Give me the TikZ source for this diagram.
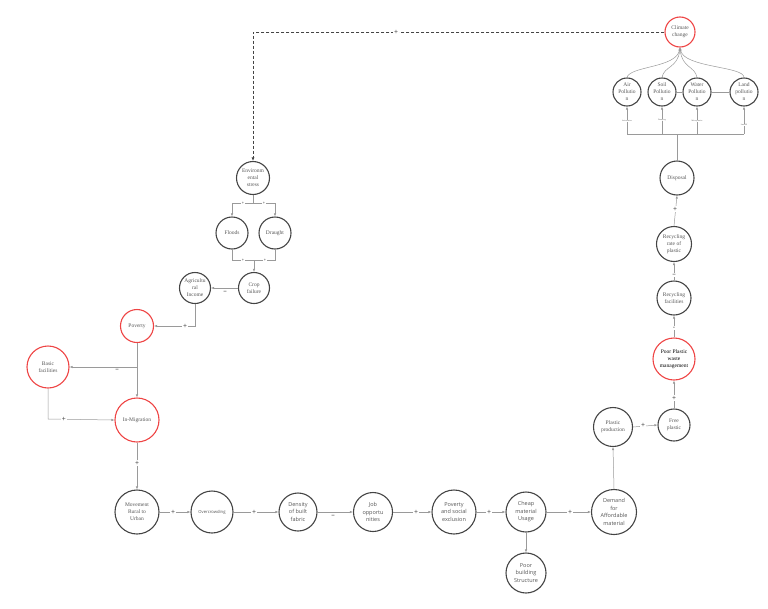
\documentclass[tikz,border=0pt]{standalone}
\usepackage{fontspec}
\setmainfont{Liberation Serif}
\newfontfamily\osans{Open Sans}
\usetikzlibrary{arrows.meta}
\definecolor{ring}{HTML}{444444}
\definecolor{redring}{HTML}{EE4444}
\definecolor{conn}{HTML}{9A9A9A}
\definecolor{txt}{HTML}{555555}
\begin{document}
\begin{tikzpicture}[x=1pt,y=-1pt,
 nd/.style={circle,draw=ring,line width=1.1pt,inner sep=0pt,align=center,text=txt,font=\fontsize{5.5}{7}\selectfont},
 rd/.style={nd,draw=redring},
 sn/.style={nd,font=\osans\fontsize{5.5}{7.5}\selectfont},
 ar/.style={draw=conn,line width=0.5pt,-{Latex[length=3pt,width=2.4pt]}},
 ln/.style={draw=conn,line width=0.5pt},
 lb/.style={fill=white,inner sep=0.6pt,text=ring,font=\osans\fontsize{7}{7}\selectfont},
 tinylb/.style={fill=white,inner sep=0.3pt,text=txt,font=\fontsize{2}{2.5}\selectfont}]
\useasboundingbox (0,0) rectangle (768,608);
% top right
\node[rd,minimum size=30pt] (cc) at (680,32) {Climate\\change};
\node[nd,minimum size=28pt] (air) at (627,92) {Air\\Pollutio\\n};
\node[nd,minimum size=28pt] (soil) at (662,92) {Soil\\Pollutio\\n};
\node[nd,minimum size=28pt] (water) at (697,92) {Water\\Pollutio\\n};
\node[nd,minimum size=28pt] (land) at (744,92) {Land\\pollutio\\n};
\node[nd,minimum size=34pt] (disp) at (677,178) {Disposal};
\node[nd,minimum size=35pt] (rate) at (674,244) {Recycling\\rate of\\plastic};
\node[nd,minimum size=34pt] (fac) at (674,298) {Recycling\\facilities};
\node[rd,minimum size=42pt,text=black] (ppw) at (674,359) {Poor Plastic\\waste\\management};
\node[nd,minimum size=32pt] (free) at (674,425) {Free\\plastic};
\node[nd,minimum size=39pt] (prod) at (613,427) {Plastic\\production};
% left
\node[nd,minimum size=33pt] (env) at (253,178) {Environm\\ental\\stress};
\node[nd,minimum size=32pt] (flood) at (232,233) {Floods};
\node[nd,minimum size=32pt] (draught) at (275,233) {Draught};
\node[nd,minimum size=31pt] (crop) at (254,288) {Crop\\failure};
\node[nd,minimum size=31pt] (agri) at (195,288) {Agricultu\\ral\\Income};
\node[rd,minimum size=33pt] (pov) at (137,326) {Poverty};
\node[rd,minimum size=42pt] (basic) at (48,367) {Basic\\facilities};
\node[rd,minimum size=44pt] (mig) at (137,420) {In-Migration};
% bottom row
\node[nd,minimum size=44pt] (move) at (137,512) {Movement\\Rural to\\Urban};
\node[nd,minimum size=42pt,font=\osans\fontsize{4.2}{5}\selectfont] (over) at (212,512) {Overcrowding};
\node[sn,minimum size=38pt] (dens) at (298,512) {Density\\of built\\fabric};
\node[sn,minimum size=39pt] (job) at (373,512) {Job\\opportu\\nities};
\node[sn,minimum size=44pt] (psx) at (454,512) {Poverty\\and social\\exclusion};
\node[sn,minimum size=40pt] (cheap) at (526,512) {Cheap\\material\\Usage};
\node[sn,minimum size=40pt] (pbs) at (526,573) {Poor\\building\\Structure};
\node[sn,minimum size=45pt] (dem) at (614,512) {Demand\\for\\Affordable\\material};
% climate change -> environmental stress (dashed)
\coordinate (dc) at (253,32);
\draw[draw=ring,line width=0.7pt,dash pattern=on 3pt off 2pt,-{Latex[length=3.5pt,width=3pt]}] (cc.west) -- (dc) -- (env.north);
\node[lb] at (396,32) {+};
% pollutions -> climate change
\draw[ar] (air.north) .. controls (630,66) and (676,68) .. (cc.south);
\draw[ar] (soil.north) .. controls (664,66) and (678,68) .. (cc.south);
\draw[ar] (water.north) .. controls (695,66) and (682,68) .. (cc.south);
\draw[ar] (land.north) .. controls (744,66) and (684,68) .. (cc.south);
\draw[ln] (soil) -- (water);
\draw[ln] (water) -- (land);
% disposal -> pollutions
\coordinate (hd) at (677,134);
\coordinate (ha) at (627,134);
\coordinate (hs) at (662,134);
\coordinate (hw) at (697,134);
\coordinate (hl) at (744,134);
\draw[ln] (disp.north) -- (hd);
\draw[ln] (ha) -- (hl);
\draw[ar] (ha) -- (air.south);
\draw[ar] (hs) -- (soil.south);
\draw[ar] (hw) -- (water.south);
\draw[ar] (hl) -- (land.south);
\node[tinylb] at (627,121) {Incineration};
\node[tinylb] at (662,120) {Dumping};
\node[tinylb] at (697,121) {Microplastics};
\node[tinylb] at (744,125) {Landfill};
% right column
\draw[ar] (rate.north) -- (disp.south); \node[lb] at (675,209) {+};
\draw[ar] (fac.north) -- (rate.south); \node[lb] at (674,275) {–};
\draw[ar] (ppw.north) -- (fac.south); \node[lb] at (674,328) {-};
\draw[ar] (free.north) -- (ppw.south); \node[lb] at (674,398) {+};
\draw[ar] (prod.east) -- (free.west); \node[lb] at (643,425) {+};
\draw[ar] (dem.north) -- (prod.south);
% left cluster
\coordinate (sp) at (253,203);
\coordinate (spf) at (232,203);
\coordinate (spd) at (275,203);
\draw[ln] (env.south) -- (sp);
\draw[ar] (sp) -- (spf) -- (flood.north);
\draw[ar] (sp) -- (spd) -- (draught.north);
\node[lb,font=\osans\fontsize{4}{4}\selectfont] at (243,203) {+};
\node[lb,font=\osans\fontsize{4}{4}\selectfont] at (264,203) {+};
\coordinate (jn) at (254,260);
\coordinate (jf) at (232,260);
\coordinate (jd) at (275,260);
\draw[ln] (flood.south) -- (jf) -- (jd) -- (draught.south);
\draw[ar] (jn) -- (crop.north);
\node[lb,font=\osans\fontsize{4}{4}\selectfont] at (243,260) {+};
\node[lb,font=\osans\fontsize{4}{4}\selectfont] at (265,260) {+};
\draw[ar] (crop.west) -- (agri.east); \node[lb] at (225,292) {–};
\coordinate (ai) at (195,326);
\draw[ar] (agri.south) -- (ai) -- (pov.east); \node[lb] at (185,326) {+};
\coordinate (pb) at (137,367);
\draw[ar] (pov.south) -- (mig.north);
\draw[ar] (pb) -- (basic.east); \node[lb] at (117,370) {–};
\coordinate (bm) at (48,419);
\draw[ar] (basic.south) -- (bm) -- (mig.west); \node[lb] at (64,419) {+};
\draw[ar] (mig.south) -- (move.north); \node[lb] at (137,463) {+};
% bottom row connectors
\draw[ar] (move.east) -- (over.west); \node[lb] at (173,512) {+};
\draw[ar] (over.east) -- (dens.west); \node[lb] at (254,512) {+};
\draw[ar] (dens.east) -- (job.west); \node[lb] at (333,516) {–};
\draw[ar] (job.east) -- (psx.west); \node[lb] at (416,512) {+};
\draw[ar] (psx.east) -- (cheap.west); \node[lb] at (489,512) {+};
\draw[ar] (cheap.east) -- (dem.west); \node[lb] at (570,512) {+};
\draw[ar] (cheap.south) -- (pbs.north);
\end{tikzpicture}
\end{document}
